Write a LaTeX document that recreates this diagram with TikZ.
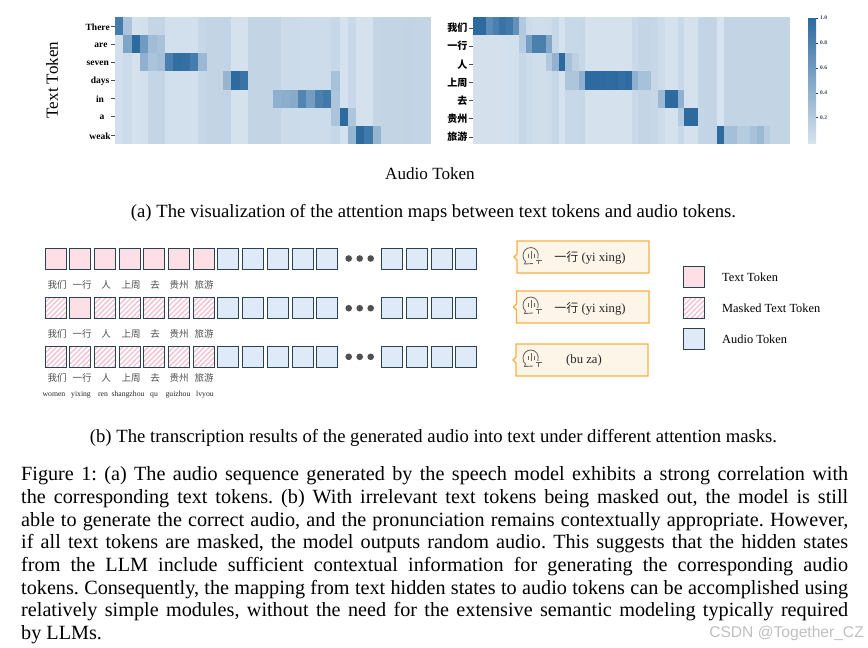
\documentclass[tikz,border=0pt]{standalone}
\usepackage{fontspec}
\setmainfont{Liberation Serif}
\setsansfont{Liberation Sans}
\newfontfamily\cjk{Noto Sans CJK SC}
\usepackage{tikz}
\usetikzlibrary{positioning,patterns.meta}
\definecolor{heathigh}{HTML}{2C6AA0}
\definecolor{heatlow}{HTML}{D7E3EF}
\definecolor{tokline}{HTML}{2A4252}
\definecolor{tokpink}{HTML}{FEDFE5}
\definecolor{tokhatch}{HTML}{F3C4D2}
\definecolor{tokblue}{HTML}{DEEAF8}
\definecolor{bubfill}{HTML}{FEF5E9}
\definecolor{bubline}{HTML}{F5B042}
\definecolor{icongray}{HTML}{666666}
\definecolor{dotgray}{HTML}{505050}
\definecolor{barlabel}{HTML}{2B3A5C}
\newcommand{\voiceicon}[2]{%
    \begin{scope}[shift={(#1,#2)}, line width=0.85pt]
        \draw[icongray] (6.8,3) .. controls (8.5,-3) and (5,-8) .. (0,-8) .. controls (-5,-8) and (-8,-4) .. (-8,0) .. controls (-8,3) and (-7,5) .. (-5.5,6) -- (-6.5,8.5) -- (2,8);
        \draw[icongray] (-3,-2) -- (-3,2);
        \draw[icongray] (0,-5) -- (0,3);
        \draw[icongray] (3,-2) -- (3,2);
        \draw[icongray] (4.5,4.5) -- (11,4.5) (7.7,4.5) -- (7.7,8.5);
    \end{scope}}
\begin{document}
\begin{tikzpicture}[x=1pt, y=-1pt,
    tok/.style = {draw=tokline, line width=0.9pt, minimum size=21pt, inner sep=0pt, outer sep=0pt},
    texttok/.style = {tok, fill=tokpink},
    maskedtok/.style = {tok, pattern={Lines[angle=45,distance=3.6pt,line width=1.5pt]}, pattern color=tokhatch},
    audiotok/.style = {tok, fill=tokblue},
    hanzi/.style = {font=\cjk\fontsize{9.5}{10}\selectfont, text=black!70, inner sep=0pt},
    pinyin/.style = {font=\fontsize{7.7}{8}\selectfont, text=black!85, inner sep=0pt},
    entoken/.style = {font=\bfseries\fontsize{9.5}{10}\selectfont, inner sep=0pt},
    zhtoken/.style = {font=\cjk\bfseries\fontsize{10}{11}\selectfont, inner sep=0pt, anchor=east},
    bartick/.style = {font=\bfseries\fontsize{5.5}{6}\selectfont, text=barlabel, inner sep=0pt, anchor=west},
    legendtext/.style = {font=\fontsize{12.4}{13}\selectfont, inner sep=0pt, anchor=west},
    bubble/.style = {draw=bubline, fill=bubfill, line width=1.1pt},
    bubbletext/.style = {font=\fontsize{12.7}{13}\selectfont, text=black!85, inner sep=0pt},
    bigcaption/.style = {font=\fontsize{18.67}{20}\selectfont, inner sep=0pt}]
    \useasboundingbox (0,0) rectangle (868,648);
    % Left map: columns first, then the strong cells
    \foreach \c/\v in {0/3,1/7,2/1,3/3,4/11,5/11,6/3,7/3,8/3,9/3,10/10,11/12,12/12,13/13,14/1,15/1,16/12,17/12,18/12,19/12,20/7,21/7,22/6,23/6,24/6,25/6,26/10,27/1,28/8,29/1,30/1,31/11,32/12,33/12,34/12,35/13,36/12,37/12}
        \fill[heathigh!\v!heatlow] (115+8.316*\c,17) rectangle (115+8.316*\c+8.4,144);
    \foreach \r/\c/\v in {0/0/85,0/1/26,1/1/52,1/2/100,1/3/60,1/4/32,1/5/27,2/3/42,2/4/26,2/5/30,2/6/82,2/7/97,2/8/95,2/9/85,2/10/36,3/13/38,3/14/100,3/15/92,3/16/12,3/26/28,4/19/42,4/20/44,4/21/47,4/22/78,4/23/58,4/24/82,4/25/88,4/26/25,5/26/26,5/27/100,5/28/24,6/28/38,6/29/100,6/30/88,6/31/38}
        \fill[heathigh!\v!heatlow] (115+8.316*\c,17+18.14*\r) rectangle (115+8.316*\c+8.4,17+18.14*\r+18.14);
    % Right map
    \foreach \c/\v in {0/2,1/2,2/2,3/2,4/2,5/3,6/3,7/10,8/7,9/4,10/4,11/5,12/10,13/1,14/9,15/9,16/10,17/1,18/1,19/1,20/1,21/1,22/1,23/1,24/8,25/11,26/11,27/10,28/6,29/1,30/1,31/8,32/1,33/1,34/11,35/13,36/12,37/0,38/12,39/12,40/12,41/12,42/12,43/12,44/12,45/12,46/12,47/12}
        \fill[heathigh!\v!heatlow] (473+6.604*\c,17) rectangle (473+6.604*\c+6.7,144);
    \foreach \r/\c/\v in {0/0/100,0/1/100,0/2/72,0/3/82,0/4/92,0/5/88,0/6/68,0/7/22,1/7/20,1/8/56,1/9/82,1/10/82,1/11/50,2/11/22,2/12/40,2/13/100,2/14/28,2/15/16,3/14/24,3/15/24,3/16/42,3/17/100,3/18/100,3/19/100,3/20/98,3/21/100,3/22/96,3/23/98,3/24/42,3/25/28,3/26/28,4/28/35,4/29/100,4/30/100,4/31/42,5/31/20,5/32/100,5/33/100,6/37/100,6/38/30,6/39/30,6/40/20,6/41/20,6/42/28,6/43/35,6/44/20}
        \fill[heathigh!\v!heatlow] (473+6.604*\c,17+18.14*\r) rectangle (473+6.604*\c+6.7,17+18.14*\r+18.14);
    % Row labels
    \foreach \i/\t/\x in {0/There/97.7,1/are/101,2/seven/97.7,3/days/100,4/in/100,5/a/102,6/weak/100} {
        \node[entoken] (en\i) at (\x,27+18.14*\i) {\t};
        \draw[line width=0.6pt, black!70] (111,26+18.14*\i) -- (114.5,26+18.14*\i);
    }
    \foreach \i/\t in {0/我们,1/一行,2/人,3/上周,4/去,5/贵州,6/旅游} {
        \node[zhtoken] (zh\i) at (467.5,28+18.14*\i) {\t};
        \draw[line width=0.6pt, black!70] (469,28+18.14*\i) -- (472.5,28+18.14*\i);
    }
    % Colour bar
    \shade[top color=heathigh, bottom color=heatlow] (808,18) rectangle (816,143);
    \foreach \i/\t in {0/1.0,1/0.8,2/0.6,3/0.4,4/0.2} {
        \node[bartick] (bar\i) at (820,18+24.9*\i) {\t};
        \draw[line width=0.4pt, barlabel] (816,18+24.9*\i) -- (818,18+24.9*\i);
    }
    % Axis labels and sub captions
    \node[rotate=90, font=\fontsize{17}{18}\selectfont, inner sep=0pt] (ylabel) at (52,80) {Text Token};
    \node[font=\fontsize{17.1}{18}\selectfont, inner sep=0pt] (xlabel) at (430,174) {Audio Token};
    \node[bigcaption] (capa) at (433.5,213) {(a) The visualization of the attention maps between text tokens and audio tokens.};
    \node[bigcaption] (capb) at (433.5,438) {(b) The transcription results of the generated audio into text under different attention masks.};
    % Token rows
    \node[texttok, anchor=north west] (a1) at (45,248) {};
    \node[maskedtok, anchor=north west] (b1) at (45,297.7) {};
    \node[maskedtok, anchor=north west] (c1) at (45,346.3) {};
    \node[texttok] (b2) [right=3.7pt of b1] {};
    \foreach \i [remember=\i as \p (initially 1)] in {2,...,7}
        \node[texttok] (a\i) [right=3.7pt of a\p] {};
    \foreach \i [remember=\i as \p (initially 2)] in {3,...,7}
        \node[maskedtok] (b\i) [right=3.7pt of b\p] {};
    \foreach \i [remember=\i as \p (initially 1)] in {2,...,7}
        \node[maskedtok] (c\i) [right=3.7pt of c\p] {};
    \foreach \row in {a,b,c} {
        \foreach \i [remember=\i as \p (initially 7)] in {8,...,12}
            \node[audiotok] (\row\i) [right=3.7pt of \row\p] {};
        \node[audiotok] (\row13) [right=44pt of \row12] {};
        \foreach \i [remember=\i as \p (initially 13)] in {14,...,16}
            \node[audiotok] (\row\i) [right=3.7pt of \row\p] {};
        \foreach \d in {-11,0,11}
            \fill[dotgray] ([xshift=22pt+\d pt]\row12.east) circle (3.3pt);
    }
    % Token captions
    \foreach \row/\y in {a/285,b/334,c/378}
        \foreach \i/\t/\x in {1/我们/57,2/一行/82,3/人/106,4/上周/131,5/去/155,6/贵州/179,7/旅游/204}
            \node[hanzi] (\row l\i) at (\x,\y) {\t};
    \foreach \i/\t/\x in {1/women/54,2/yixing/81,3/ren/103,4/shangzhou/128,5/qu/154,6/guizhou/178,7/lvyou/205}
        \node[pinyin] (py\i) at (\x,395) {\t};
    % Transcription bubbles
    \draw[bubble] (517,241) -- (649,241) -- (649,273) -- (517,273) -- (517,260) -- (514,257) -- (517,254) -- cycle;
    \draw[bubble] (516.5,291) -- (649,291) -- (649,323) -- (516.5,323) -- (516.5,310) -- (513.5,307) -- (516.5,304) -- cycle;
    \draw[bubble] (516,344) -- (648,344) -- (648,376) -- (516,376) -- (516,363) -- (513,360) -- (516,357) -- cycle;
    \voiceicon{531}{255.5}
    \voiceicon{531}{305}
    \voiceicon{531}{358}
    \node[bubbletext] (ans1) at (590,258) {{\cjk\fontsize{12}{13}\selectfont 一行} (yi xing)};
    \node[bubbletext] (ans2) at (590,309) {{\cjk\fontsize{12}{13}\selectfont 一行} (yi xing)};
    \node[bubbletext] (ans3) at (584,360.5) {(bu za)};
    % Legend
    \node[texttok, anchor=north west] (lg1) at (683.5,266) {};
    \node[maskedtok] (lg2) [below=10.2pt of lg1] {};
    \node[audiotok] (lg3) [below=10.2pt of lg2] {};
    \node[legendtext] (lgt1) at (722,277) {Text Token};
    \node[legendtext] (lgt2) at (722,308) {Masked Text Token};
    \node[legendtext] (lgt3) at (722,339) {Audio Token};
    % Figure caption
    \node[anchor=north west, text width=827pt, align=justify, inner sep=0pt,
          font=\fontsize{20.2}{22.7}\selectfont] (figcap) at (21,466.5) {\frenchspacing
        Figure 1: (a) The audio sequence generated by the speech model exhibits a strong correlation with\linebreak
        the corresponding text tokens. (b) With irrelevant text tokens being masked out, the model is still\linebreak
        able to generate the correct audio, and the pronunciation remains contextually appropriate. However,\linebreak
        if all text tokens are masked, the model outputs random audio. This suggests that the hidden states\linebreak
        from the LLM include sufficient contextual information for generating the corresponding audio\linebreak
        tokens. Consequently, the mapping from text hidden states to audio tokens can be accomplished using\linebreak
        relatively simple modules, without the need for the extensive semantic modeling typically required\linebreak
        by LLMs.};
    \node[font=\sffamily\fontsize{15.6}{16}\selectfont, text=black!25, inner sep=0pt, anchor=east] (mark) at (864,633) {CSDN @Together\_CZ};
\end{tikzpicture}
\end{document}
